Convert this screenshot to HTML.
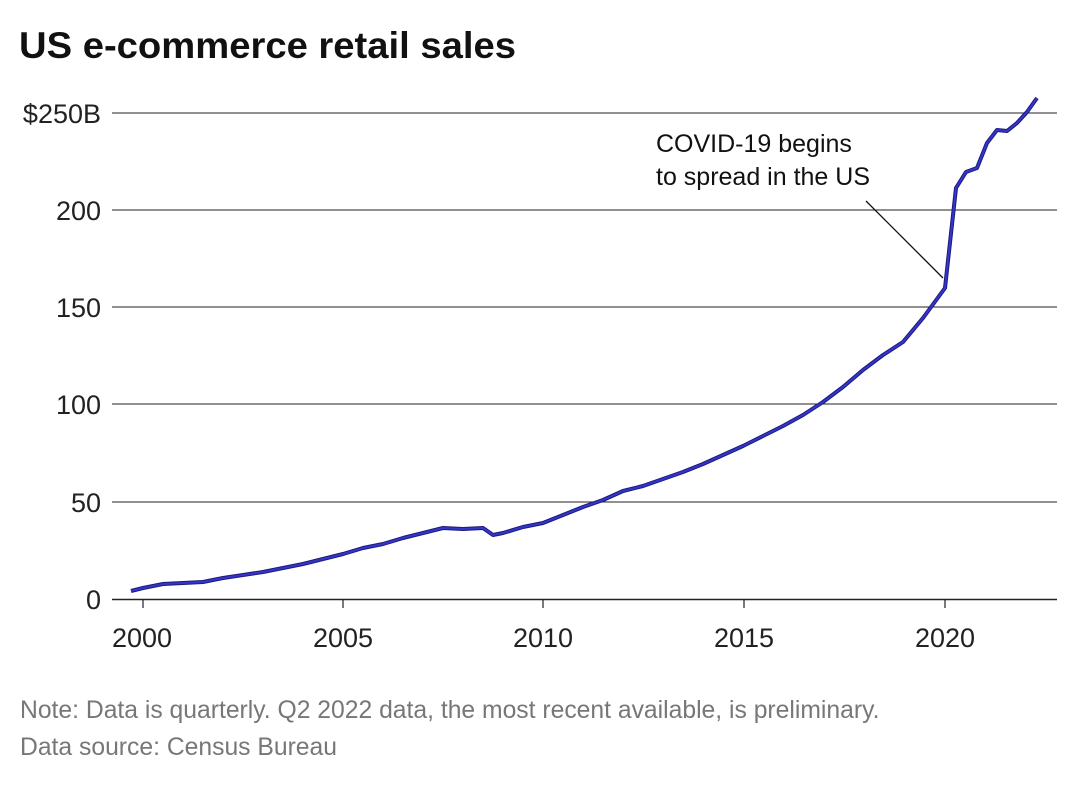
<!DOCTYPE html>
<html><head><meta charset="utf-8"><style>
body{margin:0;background:#fff;width:1080px;height:781px;overflow:hidden;font-family:"Liberation Sans",sans-serif}
</style></head><body>
<svg width="1080" height="781" viewBox="0 0 1080 781" xmlns="http://www.w3.org/2000/svg" font-family="Liberation Sans, sans-serif">
<text x="19" y="58" font-size="37" font-weight="bold" fill="#111" textLength="497" lengthAdjust="spacingAndGlyphs">US e-commerce retail sales</text>
<g stroke="#222" stroke-width="1">
<line x1="112" y1="113" x2="1057" y2="113"/>
<line x1="112" y1="210" x2="1057" y2="210"/>
<line x1="112" y1="307" x2="1057" y2="307"/>
<line x1="112" y1="404" x2="1057" y2="404"/>
<line x1="112" y1="502" x2="1057" y2="502"/>
<line x1="112" y1="599.5" x2="1057" y2="599.5" stroke-width="1.5"/>
</g>
<g font-size="27" fill="#222" text-anchor="end">
<text x="101" y="123">$250B</text>
<text x="101" y="220">200</text>
<text x="101" y="317">150</text>
<text x="101" y="414">100</text>
<text x="101" y="512">50</text>
<text x="101" y="609">0</text>
</g>
<g stroke="#222" stroke-width="1.2">
<line x1="143" y1="600" x2="143" y2="608"/><line x1="343" y1="600" x2="343" y2="608"/>
<line x1="543" y1="600" x2="543" y2="608"/><line x1="744" y1="600" x2="744" y2="608"/>
<line x1="945" y1="600" x2="945" y2="608"/>
</g>
<g font-size="27" fill="#222" text-anchor="middle">
<text x="142" y="647">2000</text><text x="343" y="647">2005</text>
<text x="543" y="647">2010</text><text x="744" y="647">2015</text>
<text x="945" y="647">2020</text>
</g>
<polyline fill="none" stroke="#1a1a80" stroke-width="4" stroke-linejoin="round" points="131,591 143,588 163,584 183,583 203,582 223,578 243,575 263,572 283,568 303,564 323,559 343,554 363,548 383,544 403,538 423,533 443,528 463,529 483,528 493,535 503,533 523,527 543,523 563,515 583,507 603,500 623,491 643,486 663,479 683,472 703,464 723,455 743,446 763,436 783,426 803,415 823,402 843,387 863,370 883,355 903,342 923,318 945,288 956,188 966,172 977,168 987,143 997,130 1007,131 1017,123 1027,112 1037,98"/>
<polyline fill="none" stroke="#3535c8" stroke-width="2" stroke-linejoin="round" points="131,591 143,588 163,584 183,583 203,582 223,578 243,575 263,572 283,568 303,564 323,559 343,554 363,548 383,544 403,538 423,533 443,528 463,529 483,528 493,535 503,533 523,527 543,523 563,515 583,507 603,500 623,491 643,486 663,479 683,472 703,464 723,455 743,446 763,436 783,426 803,415 823,402 843,387 863,370 883,355 903,342 923,318 945,288 956,188 966,172 977,168 987,143 997,130 1007,131 1017,123 1027,112 1037,98"/>
<line x1="866" y1="201" x2="943" y2="278" stroke="#111" stroke-width="1.3"/>
<text x="656" y="152" font-size="25" fill="#111">COVID-19 begins</text>
<text x="656" y="185" font-size="25" fill="#111">to spread in the US</text>
<text x="20" y="718" font-size="24.7" fill="#777">Note: Data is quarterly. Q2 2022 data, the most recent available, is preliminary.</text>
<text x="20" y="755" font-size="24.7" fill="#777">Data source: Census Bureau</text>
</svg>
</body></html>
